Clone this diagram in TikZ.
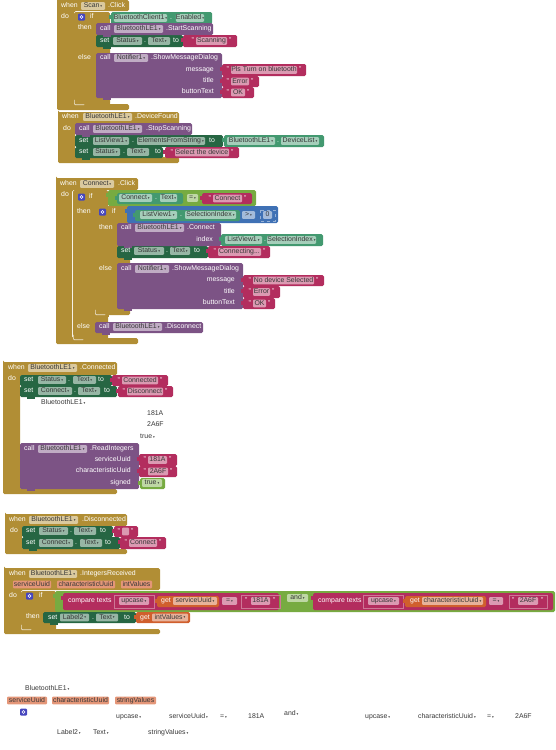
\documentclass[tikz,border=0pt]{standalone}
\usepackage{fontspec}
\setmainfont{Liberation Sans}
\newfontfamily\ddfont{DejaVu Sans}
\definecolor{aigold}{RGB}{177,142,53}
\definecolor{aipurple}{RGB}{124,83,133}
\definecolor{aidark}{RGB}{38,102,67}
\definecolor{aigreen}{RGB}{67,153,112}
\definecolor{aipink}{RGB}{179,45,94}
\definecolor{aiblue}{RGB}{63,113,181}
\definecolor{ailogic}{RGB}{119,171,65}
\definecolor{aiorange}{RGB}{208,95,45}
\definecolor{aiparam}{RGB}{228,150,120}
\definecolor{aiicon}{RGB}{70,70,190}
\definecolor{aitext}{RGB}{55,55,55}
\newcommand{\dd}{\hspace{1pt}{\ddfont\fontsize{3.5}{4}\selectfont\raisebox{.6pt}{▾}}}
% gold event block in the form of a C
\newcommand{\eventblock}[7]{\fill[aigold,blockedge] (#1,#4) -| (#3,#5) -| (#2,#6) -| (#3,#7) -| cycle;}
\newcommand{\ifblock}[4]{
  \fill[aigold,blockedge] (#1,#3) rectangle (#2,#4);
  \fill[aigold] (#1+7,#4) rectangle (#1+14,#4+1.5);
  \draw[white!75!aigold,line width=.6pt,line cap=round,rounded corners=1pt] (#1+.3,#4-5) -- (#1+.3,#4-.3) -- (#1+10,#4-.3);
}
\newcommand{\stmblock}[5]{
  \fill[#1] (#2+7,#5) rectangle (#2+15,#5+1.5);
  \fill[#1,blockedge] (#2,#3) rectangle (#4,#5);
}
\newcommand{\valblock}[5]{
  \fill[#1] (#2-2,#3+3) rectangle (#2,#3+7);
  \fill[#1,blockedge] (#2,#3) rectangle (#4,#5);
}
\newcommand{\word}[3]{\node[blockword,anchor=west] at ({#1},{#2}) {#3};}
\newcommand{\rword}[3]{\node[blockword,anchor=east] at ({#1},{#2}) {#3};}
\newcommand{\plain}[3]{\node[plainword,anchor=west] at ({#1},{#2}) {#3};}
\newcommand{\field}[5]{\node[fieldchip,fill=#1!48!white,minimum width={(#3-#2)*1pt}] at ({(#2+#3)/2},{#4}) {#5};}
\newcommand{\paramchip}[4]{\node[fieldchip,fill=aiparam,minimum width={(#2-#1)*1pt}] at ({(#1+#2)/2},{#3}) {#4};}
\newcommand{\textblock}[7]{
  \valblock{aipink}{#1}{#3}{#2}{#4}
  \field{aipink}{#5}{#6}{(#3+#4)/2}{#7}
  \word{#5-4.5}{(#3+#4)/2}{"}
  \word{#6+2}{(#3+#4)/2}{"}
}
\newcommand{\gearicon}[2]{
  \fill[aiicon,rounded corners=1pt] (#1,#2-3.5) rectangle (#1+7,#2+3.5);
  \draw[white,line width=.6pt] (#1+3.5,#2) circle (1.5);
}
\tikzset{
  blockedge/.style={rounded corners=1.5pt},
  blockword/.style={font=\fontsize{6.9}{8}\selectfont,text=white,inner sep=0pt,text height=5pt,text depth=1.4pt},
  plainword/.style={font=\fontsize{6.9}{8}\selectfont,text=aitext,inner sep=0pt,text height=5pt,text depth=1.4pt},
  fieldchip/.style={font=\fontsize{6.9}{8}\selectfont,text=aitext,inner sep=0pt,minimum height=7.6pt,text height=5pt,text depth=1.4pt,rounded corners=1pt},
}
\begin{document}
\begin{tikzpicture}[x=1pt,y=-1pt]
  \useasboundingbox (0,0) rectangle (556,750);
  % Scan click
  \eventblock{57}{74}{129}{0}{11}{104}{110}
  \word{61}{6}{when} \field{aigold}{81}{105}{6}{Scan\dd} \word{108}{6}{.Click}
  \word{61}{17}{do}
  \ifblock{74}{110}{12}{105}
  \gearicon{78}{17} \word{90}{17}{if}
  \word{78}{28}{then} \word{78}{58}{else}
  \valblock{aigreen}{111}{12}{212}{24}
  \field{aigreen}{114}{167}{18}{BluetoothClient1\dd} \word{170}{18}{.} \field{aigreen}{176}{204}{18}{Enabled\dd}
  \stmblock{aidark}{96}{35}{183}{47}
  \stmblock{aipurple}{96}{23}{213}{35}
  \word{100}{29}{call} \field{aipurple}{114}{163}{29}{BluetoothLE1\dd} \word{166}{29}{.StartScanning}
  \word{100}{41}{set} \field{aidark}{113}{142}{41}{Status\dd} \word{144}{41}{.} \field{aidark}{148}{170}{41}{Text\dd} \word{173}{41}{to}
  \textblock{183}{237}{35}{47}{196}{227}{Scanning}
  \stmblock{aipurple}{96}{53}{222}{98}
  \word{100}{58}{call} \field{aipurple}{114}{148}{58}{Notifier1\dd} \word{151}{58}{.ShowMessageDialog}
  \rword{214}{70}{message} \rword{214}{81}{title} \rword{214}{92}{buttonText}
  \textblock{222}{306}{64}{76}{231}{297}{Pls Turn on bluetooth}
  \textblock{222}{259}{76}{87}{231}{249}{Error}
  \textblock{222}{254}{87}{98}{231}{245}{OK}
  % Device found
  \eventblock{58}{75}{179}{112}{124}{157}{163}
  \word{62}{117}{when} \field{aigold}{83}{132}{117}{BluetoothLE1\dd} \word{135}{117}{.DeviceFound}
  \word{63}{129}{do}
  \stmblock{aidark}{75}{147}{163}{158}
  \stmblock{aidark}{75}{135}{223}{147}
  \stmblock{aipurple}{75}{123}{192}{135}
  \word{79}{129}{call} \field{aipurple}{93}{142}{129}{BluetoothLE1\dd} \word{146}{129}{.StopScanning}
  \word{79}{141}{set} \field{aidark}{93}{129}{141}{ListView1\dd} \word{132}{141}{.} \field{aidark}{137}{205}{141}{ElementsFromString\dd} \word{209}{141}{to}
  \valblock{aigreen}{224}{135}{324}{147}
  \field{aigreen}{227}{275}{141}{BluetoothLE1\dd} \word{277}{141}{.} \field{aigreen}{281}{319}{141}{DeviceList\dd}
  \word{79}{152}{set} \field{aidark}{93}{120}{152}{Status\dd} \word{123}{152}{.} \field{aidark}{127}{149}{152}{Text\dd} \word{155}{152}{to}
  \textblock{165}{239}{147}{158}{175}{229}{Select the device}
  % Connect click
  \eventblock{56}{72}{138}{178}{190}{338}{344}
  \word{60}{184}{when} \field{aigold}{80}{114}{184}{Connect\dd} \word{118}{184}{.Click}
  \word{61}{195}{do}
  \ifblock{73}{108}{190}{340}
  \gearicon{78}{197} \word{89}{197}{if}
  \word{77}{212}{then} \word{77}{327}{else}
  \valblock{ailogic}{108}{190}{256}{206}
  \valblock{aigreen}{117}{193}{183}{204}
  \field{aigreen}{119}{152}{198}{Connect\dd} \word{155}{198}{.} \field{aigreen}{160}{177}{198}{Text\dd}
  \field{ailogic}{187}{198}{198}{=\dd}
  \textblock{202}{252}{193}{204}{213}{242}{Connect}
  \ifblock{95}{130}{206}{315}
  \gearicon{99}{212} \word{112}{212}{if}
  \word{99}{228}{then} \word{99}{269}{else}
  \valblock{aiblue}{127}{206}{278}{223}
  \valblock{aigreen}{135}{210}{240}{221}
  \field{aigreen}{140}{177}{215}{ListView1\dd} \word{180}{215}{.} \field{aigreen}{185}{236}{215}{SelectionIndex\dd}
  \field{aiblue}{242}{255}{215}{>\dd}
  \draw[aiblue!55!white,dashed,line width=.4pt] (260,210) rectangle (275,221);
  \field{aiblue}{263}{272}{215}{0}
  \stmblock{aidark}{117}{246}{208}{258}
  \stmblock{aipurple}{117}{223}{221}{246}
  \word{121}{228}{call} \field{aipurple}{135}{184}{228}{BluetoothLE1\dd} \word{187}{228}{.Connect}
  \rword{213}{240}{index}
  \valblock{aigreen}{221}{234}{323}{246}
  \field{aigreen}{225}{262}{240}{ListView1\dd} \word{264}{240}{.} \field{aigreen}{267}{316}{240}{SelectionIndex\dd}
  \word{121}{251}{set} \field{aidark}{134}{164}{251}{Status\dd} \word{166}{251}{.} \field{aidark}{170}{190}{251}{Text\dd} \word{194}{251}{to}
  \textblock{208}{270}{246}{258}{218}{261}{Connecting...}
  \stmblock{aipurple}{117}{263}{243}{309}
  \word{121}{269}{call} \field{aipurple}{135}{169}{269}{Notifier1\dd} \word{172}{269}{.ShowMessageDialog}
  \rword{235}{280}{message} \rword{235}{292}{title} \rword{235}{303}{buttonText}
  \textblock{243}{324}{275}{286}{253}{314}{No device Selected}
  \textblock{243}{280}{286}{298}{253}{270}{Error}
  \textblock{243}{275}{298}{309}{253}{266}{OK}
  \stmblock{aipurple}{95}{322}{203}{333}
  \word{99}{327}{call} \field{aipurple}{113}{162}{327}{BluetoothLE1\dd} \word{165}{327}{.Disconnect}
  % Connected
  \eventblock{3}{20}{117}{362}{375}{489}{494}
  \word{8}{368}{when} \field{aigold}{28}{77}{368}{BluetoothLE1\dd} \word{80}{368}{.Connected}
  \word{8}{379}{do}
  \stmblock{aidark}{20}{375}{112}{386}
  \word{24}{380}{set} \field{aidark}{38}{66}{380}{Status\dd} \word{68}{380}{.} \field{aidark}{73}{96}{380}{Text\dd} \word{98}{380}{to}
  \textblock{112}{168}{375}{386}{122}{158}{Connected}
  \stmblock{aidark}{20}{386}{117}{397}
  \word{24}{391}{set} \field{aidark}{38}{72}{391}{Connect\dd} \word{74}{391}{.} \field{aidark}{78}{100}{391}{Text\dd} \word{104}{391}{to}
  \textblock{118}{173}{386}{397}{127}{163}{Disconnect}
  \plain{41}{403}{BluetoothLE1\dd}
  \plain{147}{414}{181A} \plain{147}{425}{2A6F} \plain{140}{437}{true\dd}
  \stmblock{aipurple}{20}{443}{139}{489}
  \word{24}{449}{call} \field{aipurple}{38}{87}{449}{BluetoothLE1\dd} \word{90}{449}{.ReadIntegers}
  \rword{131}{460}{serviceUuid} \rword{131}{471}{characteristicUuid} \rword{131}{483}{signed}
  \textblock{139}{177}{454}{466}{148}{167}{181A}
  \textblock{139}{177}{466}{477}{148}{168}{2A6F}
  \valblock{ailogic}{140}{478}{165}{489}
  \field{ailogic}{142}{162}{483}{true\dd}
  % Disconnected
  \eventblock{5}{22}{127}{514}{526}{549}{554}
  \word{9}{520}{when} \field{aigold}{29}{78}{520}{BluetoothLE1\dd} \word{82}{520}{.Disconnected}
  \word{10}{531}{do}
  \stmblock{aidark}{22}{537}{120}{549}
  \stmblock{aidark}{22}{526}{113}{537}
  \word{26}{531}{set} \field{aidark}{39}{68}{531}{Status\dd} \word{70}{531}{.} \field{aidark}{74}{96}{531}{Text\dd} \word{100}{531}{to}
  \textblock{114}{138}{526}{537}{122}{129}{}
  \word{26}{543}{set} \field{aidark}{39}{73}{543}{Connect\dd} \word{75}{543}{.} \field{aidark}{80}{102}{543}{Text\dd} \word{105}{543}{to}
  \textblock{120}{166}{537}{549}{129}{157}{Connect}
  % Integers received
  \eventblock{4}{21}{160}{568}{590}{629}{634}
  \word{9}{574}{when} \field{aigold}{29}{77}{574}{BluetoothLE1\dd} \word{80}{574}{.IntegersReceived}
  \paramchip{13}{51}{584.5}{serviceUuid} \paramchip{57}{115}{584.5}{characteristicUuid} \paramchip{121}{152}{584.5}{intValues}
  \word{9}{596}{do}
  \ifblock{21}{56}{591}{630}
  \gearicon{26}{596} \word{39}{596}{if}
  \word{26}{617}{then}
  \valblock{ailogic}{55}{591}{555}{612}
  \valblock{aipink}{63}{593}{279}{610}
  \word{68}{601}{compare texts}
  \draw[aipink!65!white,line width=.3pt] (114,595) rectangle (154,608);
  \field{aipink}{119}{149}{601}{upcase\dd}
  \valblock{aiorange}{157}{596}{219}{607}
  \word{161}{601}{get} \field{aiorange}{173}{217}{601}{serviceUuid\dd}
  \field{aipink}{222}{237}{601}{=\dd}
  \draw[aipink!65!white,line width=.3pt] (241,595) rectangle (280,608);
  \word{245}{601}{"} \field{aipink}{251}{270}{601}{181A} \word{273}{601}{"}
  \field{ailogic}{287}{308}{598}{and\dd}
  \valblock{aipink}{313}{593}{553}{610}
  \word{318}{601}{compare texts}
  \draw[aipink!65!white,line width=.3pt] (363,595) rectangle (403,608);
  \field{aipink}{368}{399}{601}{upcase\dd}
  \valblock{aiorange}{405}{596}{486}{607}
  \word{410}{601}{get} \field{aiorange}{422}{483}{601}{characteristicUuid\dd}
  \field{aipink}{489}{503}{601}{=\dd}
  \draw[aipink!65!white,line width=.3pt] (509,595) rectangle (547,608);
  \word{512}{601}{"} \field{aipink}{518}{538}{601}{2A6F} \word{541}{601}{"}
  \stmblock{aidark}{43}{612}{136}{623}
  \word{48}{617.5}{set} \field{aidark}{60}{89}{617.5}{Label2\dd} \word{92}{617.5}{.} \field{aidark}{96}{118}{617.5}{Text\dd} \word{124}{617.5}{to}
  \valblock{aiorange}{136}{612}{190}{623}
  \word{140}{617.5}{get} \field{aiorange}{152}{188}{617.5}{intValues\dd}
  % Leftovers below the blocks
  \plain{25}{689}{BluetoothLE1\dd}
  \paramchip{7}{47}{700.5}{serviceUuid} \paramchip{52}{109}{700.5}{characteristicUuid} \paramchip{115}{156}{700.5}{stringValues}
  \gearicon{20}{712}
  \plain{284}{714}{and\dd}
  \plain{116}{717}{upcase\dd} \plain{169}{717}{serviceUuid\dd} \plain{220}{717}{=\dd} \plain{248}{717}{181A}
  \plain{365}{717}{upcase\dd} \plain{418}{717}{characteristicUuid\dd} \plain{487}{717}{=\dd} \plain{515}{717}{2A6F}
  \plain{57}{733}{Label2\dd} \plain{93}{733}{Text\dd} \plain{148}{733}{stringValues\dd}
\end{tikzpicture}
\end{document}
